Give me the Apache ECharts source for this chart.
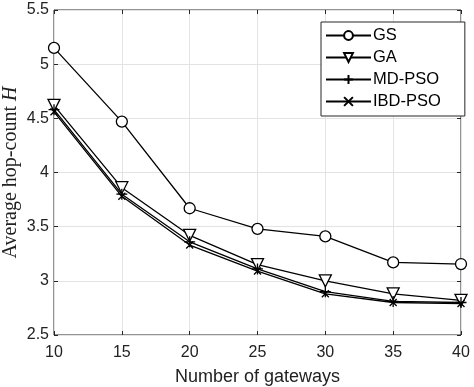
<!DOCTYPE html>
<html><head><meta charset="utf-8">
<script src="https://cdn.jsdelivr.net/npm/echarts@6/dist/echarts.min.js"></script>
<style>html,body{margin:0;padding:0;background:#fff}#c{width:474px;height:387px}</style>
</head><body><div id="c"></div>
<script>
const gateways = [10, 15, 20, 25, 30, 35, 40];
const gsValues = [5.15, 4.47, 3.67, 3.48, 3.41, 3.17, 3.155];
const gaValues = [4.62, 3.86, 3.42, 3.15, 3.00, 2.88, 2.82];
const mdpsoValues = [4.58, 3.80, 3.36, 3.11, 2.90, 2.81, 2.80];
const ibdpsoValues = [4.56, 3.78, 3.33, 3.09, 2.88, 2.80, 2.79];
const seriesNames = ['GS', 'GA', 'MD-PSO', 'IBD-PSO'];

const chart = echarts.init(document.getElementById('c'));
const pair = v => gateways.map((g, i) => [g, v[i]]);
const base = (name, vals, symbol, size) => ({
  name, type: 'line', data: pair(vals), symbol, symbolSize: size,
  lineStyle: { color: '#000', width: 1.3 },
  itemStyle: { color: '#fff', borderColor: '#000', borderWidth: 1.3 },
  emphasis: { disabled: true }, z: 3
});
const font = 'Liberation Sans, Arial, sans-serif';
const serif = 'Liberation Serif, DejaVu Serif, serif';
chart.setOption({
  animation: false,
  backgroundColor: '#fff',
  grid: { left: 54, right: 13, top: 10, bottom: 52, show: true, borderColor: '#262626', borderWidth: 1,
          containLabel: false, outerBoundsMode: 'none' },
  legend: {
    orient: 'vertical', left: 321, top: 22,
    itemWidth: 45, itemHeight: 11, itemGap: 5,
    padding: [5, 24, 6, 4],
    borderColor: '#262626', borderWidth: 1, backgroundColor: '#fff',
    textStyle: { fontFamily: font, fontSize: 16.5, color: '#000', padding: [0, 0, 0, -3] },
    data: seriesNames
  },
  xAxis: [{
    type: 'value', min: 10, max: 40, interval: 5,
    name: 'Number of gateways', nameLocation: 'middle', nameGap: 33, nameMoveOverlap: false,
    nameTextStyle: { fontFamily: font, fontSize: 18, color: '#222' },
    axisLine: { show: false },
    axisTick: { inside: true, length: 4, lineStyle: { color: '#262626' } },
    axisLabel: { fontFamily: font, fontSize: 16, color: '#222', margin: 10 },
    splitLine: { show: true, lineStyle: { color: '#e3e3e3', width: 1 } }
  }, {
    type: 'value', position: 'top', min: 10, max: 40, interval: 5,
    axisLine: { show: false },
    axisTick: { inside: true, length: 4, lineStyle: { color: '#262626' } },
    axisLabel: { show: false }, splitLine: { show: false }
  }],
  yAxis: [{
    type: 'value', min: 2.5, max: 5.5, interval: 0.5,
    name: '{n|Average hop-count }{i|H}', nameLocation: 'middle', nameGap: 43, nameMoveOverlap: false,
    nameTextStyle: { verticalAlign: 'middle', rich: {
      n: { fontFamily: serif, fontSize: 20, color: '#222' },
      i: { fontFamily: serif, fontSize: 20, fontStyle: 'italic', color: '#222' }
    } },
    axisLine: { show: false },
    axisTick: { inside: true, length: 4, lineStyle: { color: '#262626' } },
    axisLabel: { fontFamily: font, fontSize: 16, color: '#222', margin: 5 },
    splitLine: { show: true, lineStyle: { color: '#e3e3e3', width: 1 } }
  }, {
    type: 'value', position: 'right', min: 2.5, max: 5.5, interval: 0.5,
    axisLine: { show: false },
    axisTick: { inside: true, length: 4, lineStyle: { color: '#262626' } },
    axisLabel: { show: false }, splitLine: { show: false }
  }],
  series: [
    base('GS', gsValues, 'circle', 11),
    base('GA', gaValues, 'path://M0,0L10,0L5,9Z', 12),
    base('MD-PSO', mdpsoValues, 'path://M5,0L5,10M0,5L10,5', 11),
    base('IBD-PSO', ibdpsoValues, 'path://M0,0L8,8M8,0L0,8', 7)
  ]
});
</script></body></html>
